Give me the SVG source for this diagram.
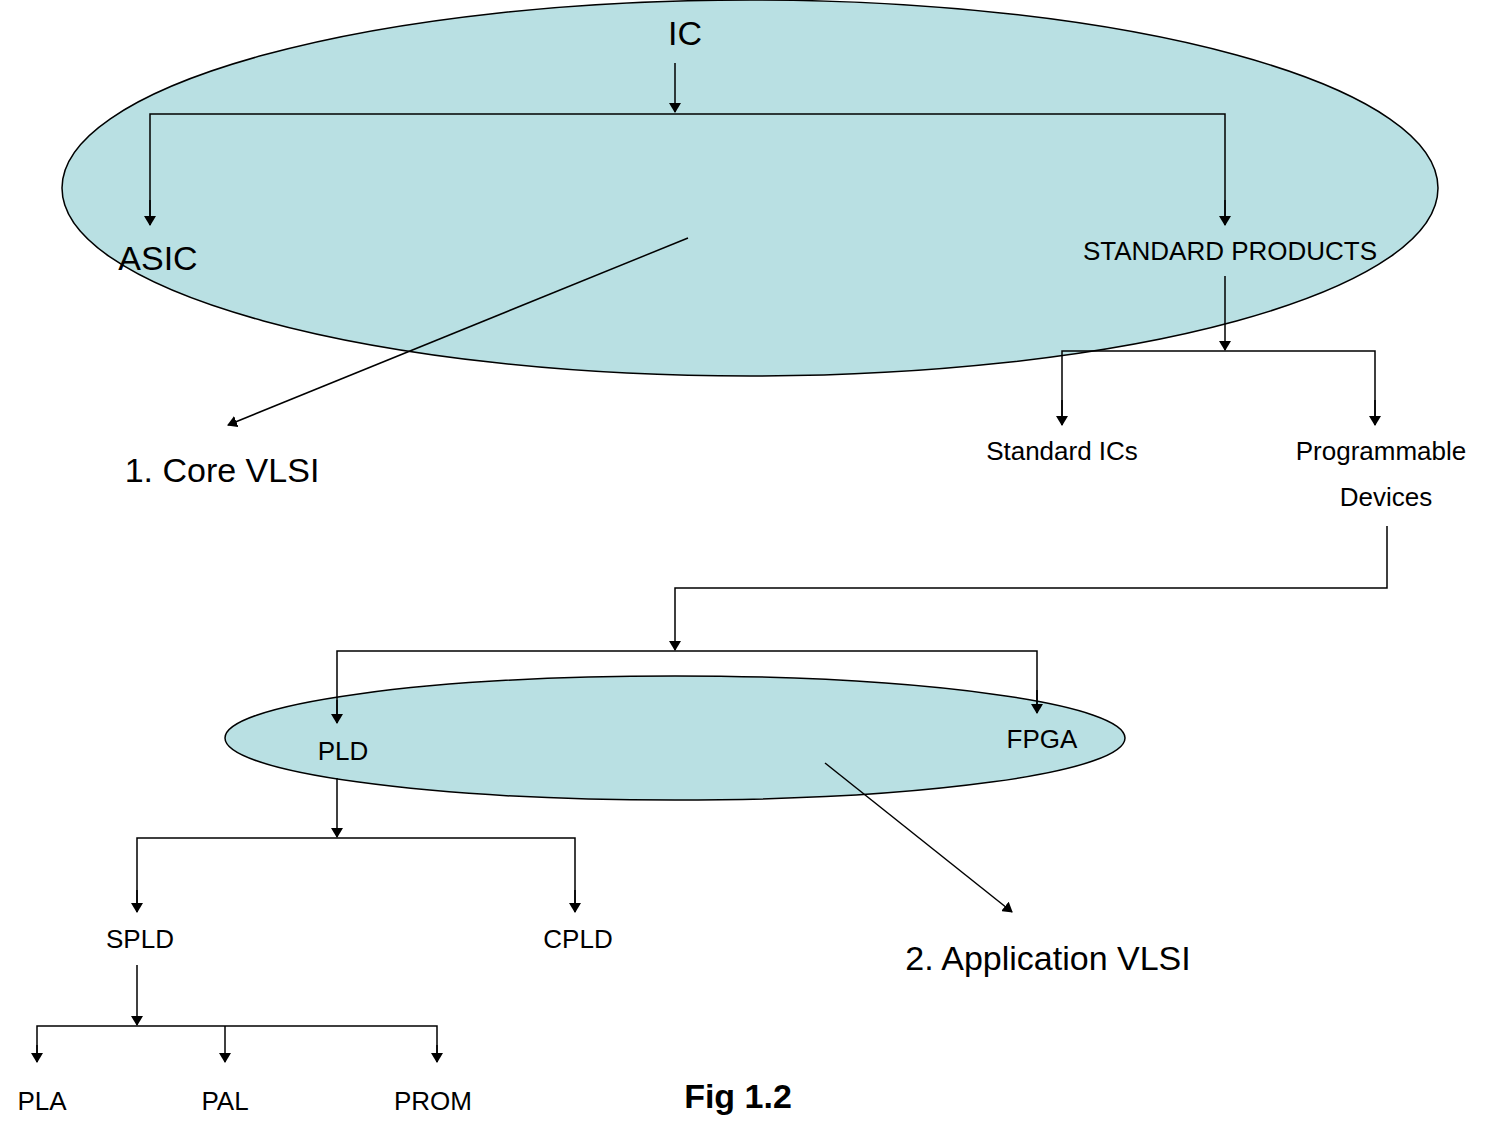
<svg xmlns="http://www.w3.org/2000/svg" width="1500" height="1126" viewBox="0 0 1500 1126">
<defs><marker id="a" markerWidth="10" markerHeight="12" refX="9" refY="6" orient="auto" markerUnits="userSpaceOnUse"><path d="M0,0 L10,6 L0,12 z" fill="#000"/></marker></defs>
<style>.e{fill:#b9e0e3;stroke:#000;stroke-width:1.5}.c line,.c polyline{fill:none;stroke:#000;stroke-width:1.5}.t{font-family:"Liberation Sans",Arial,sans-serif;text-anchor:middle;fill:#000}</style>
<rect width="1500" height="1126" fill="#fff"/>
<g id="ellipse1"><ellipse class="e" cx="750" cy="188" rx="688" ry="188"/></g>
<g id="ellipse2"><ellipse class="e" cx="675" cy="738" rx="450" ry="62"/></g>
<g class="c" id="connectors">
<line x1="675" y1="63" x2="675" y2="112" marker-end="url(#a)"/>
<polyline points="150,225 150,114 1225,114 1225,225"/>
<line x1="150" y1="200" x2="150" y2="225" marker-end="url(#a)"/>
<line x1="1225" y1="200" x2="1225" y2="225" marker-end="url(#a)"/>
<line x1="688" y1="238" x2="228" y2="425" marker-end="url(#a)"/>
<line x1="1225" y1="276" x2="1225" y2="350" marker-end="url(#a)"/>
<polyline points="1062,425 1062,351 1375,351 1375,425"/>
<line x1="1062" y1="400" x2="1062" y2="425" marker-end="url(#a)"/>
<line x1="1375" y1="400" x2="1375" y2="425" marker-end="url(#a)"/>
<polyline points="1387,526 1387,588 675,588 675,650" marker-end="url(#a)"/>
<polyline points="337,723 337,651 1037,651 1037,713"/>
<line x1="337" y1="700" x2="337" y2="723" marker-end="url(#a)"/>
<line x1="1037" y1="690" x2="1037" y2="713" marker-end="url(#a)"/>
<line x1="337" y1="778" x2="337" y2="837" marker-end="url(#a)"/>
<polyline points="137,912 137,838 575,838 575,912"/>
<line x1="137" y1="890" x2="137" y2="912" marker-end="url(#a)"/>
<line x1="575" y1="890" x2="575" y2="912" marker-end="url(#a)"/>
<line x1="825" y1="763" x2="1012" y2="912" marker-end="url(#a)"/>
<line x1="137" y1="965" x2="137" y2="1025" marker-end="url(#a)"/>
<polyline points="37,1062 37,1026 437,1026 437,1062"/>
<line x1="37" y1="1045" x2="37" y2="1062" marker-end="url(#a)"/>
<line x1="225" y1="1026" x2="225" y2="1062" marker-end="url(#a)"/>
<line x1="437" y1="1045" x2="437" y2="1062" marker-end="url(#a)"/>
</g>
<g id="IC"><text class="t" x="685" y="45" font-size="34">IC</text></g>
<g id="ASIC"><text class="t" x="158" y="270" font-size="34">ASIC</text></g>
<g id="SP"><text class="t" x="1230" y="260" font-size="26">STANDARD PRODUCTS</text></g>
<g id="core"><text class="t" x="222" y="482" font-size="34">1. Core VLSI</text></g>
<g id="sic"><text class="t" x="1062" y="460" font-size="26">Standard ICs</text></g>
<g id="pd"><text class="t" x="1381" y="460" font-size="26">Programmable</text><text class="t" x="1386" y="506" font-size="26">Devices</text></g>
<g id="PLD"><text class="t" x="343" y="760" font-size="26">PLD</text></g>
<g id="FPGA"><text class="t" x="1042" y="748" font-size="26">FPGA</text></g>
<g id="SPLD"><text class="t" x="140" y="948" font-size="26">SPLD</text></g>
<g id="CPLD"><text class="t" x="578" y="948" font-size="26">CPLD</text></g>
<g id="app"><text class="t" x="1048" y="970" font-size="34">2. Application VLSI</text></g>
<g id="PLA"><text class="t" x="42" y="1110" font-size="26">PLA</text></g>
<g id="PAL"><text class="t" x="225" y="1110" font-size="26">PAL</text></g>
<g id="PROM"><text class="t" x="433" y="1110" font-size="26">PROM</text></g>
<g id="fig"><text class="t" x="738" y="1108" font-size="34" font-weight="bold">Fig 1.2</text></g>
</svg>
